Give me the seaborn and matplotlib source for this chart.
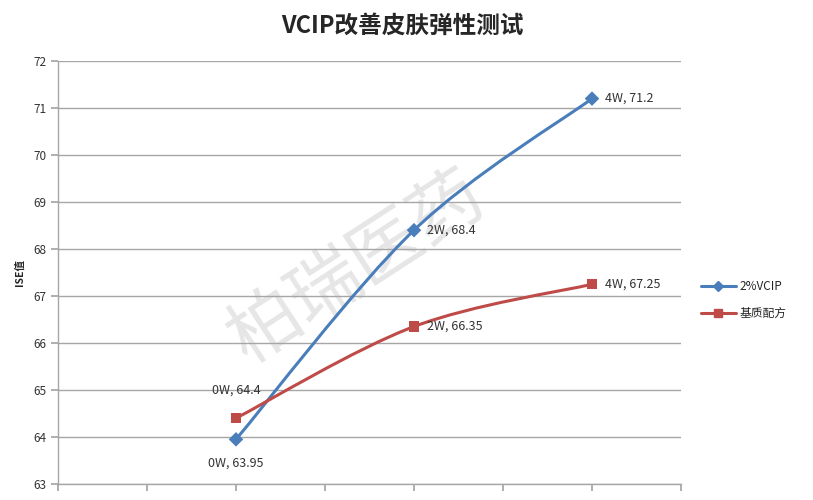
import numpy as np
import pandas as pd
import matplotlib
matplotlib.use('Agg')
import matplotlib.pyplot as plt
import seaborn as sns
from matplotlib.path import Path
from matplotlib.patches import PathPatch
from matplotlib.lines import Line2D

# dados
semanas = ['0W', '2W', '4W']
x_pos = [2, 4, 6]
vcip = [63.95, 68.4, 71.2]
base = [64.4, 66.35, 67.25]
series = ['2%VCIP', '基质配方']
cores = ['#4A7EBB', '#BE4B48']

sns.set_theme(style='white')
plt.rcParams['font.family'] = ['Noto Sans CJK SC', 'DejaVu Sans']

fig = plt.figure(figsize=(8.13, 5.0), dpi=100)
ax = fig.add_axes([58/813, 16/500, (681-58)/813, (484-61)/500])

ax.set_xlim(0, 7)
ax.set_ylim(63, 72)
ax.set_yticks(range(63, 73))
ax.set_xticks(range(0, 8))
ax.set_xticklabels([])
ax.grid(axis='y', color='#a6a6a6', linewidth=1)
for s in ['top', 'right']:
    ax.spines[s].set_visible(False)
for s in ['left', 'bottom']:
    ax.spines[s].set_color('#a6a6a6')
    ax.spines[s].set_linewidth(1)
ax.tick_params(axis='y', length=5, color='#a6a6a6', labelsize=8.5, labelcolor='#333333', direction='out', left=True)
ax.tick_params(axis='x', length=5, color='#a6a6a6', direction='out', bottom=True)
ax.set_ylabel('ISE值', fontsize=7.5, fontweight='bold', labelpad=6)

# marca d'agua
ax.text(0.48, 0.51, '柏瑞医药', transform=ax.transAxes, fontsize=52, rotation=33,
        ha='center', va='center', color='#e6e6e6', zorder=0)


def curva_suave(xs, ys):
    # estilo "smooth line" do Excel (Catmull-Rom em bezier)
    p = np.column_stack([xs, ys]).astype(float)
    p_ext = np.vstack([p[0], p, p[-1]])
    verts = [p[0]]
    codes = [Path.MOVETO]
    for i in range(len(p) - 1):
        a, b, c, d = p_ext[i], p_ext[i+1], p_ext[i+2], p_ext[i+3]
        c1 = b + (c - a) / 6
        c2 = c - (d - b) / 6
        verts += [c1, c2, c]
        codes += [Path.CURVE4] * 3
    return Path(verts, codes)


for ys, cor in zip([vcip, base], cores):
    ax.add_patch(PathPatch(curva_suave(x_pos, ys), facecolor='none', edgecolor=cor, linewidth=2.2, zorder=3))

df = pd.DataFrame({'x': x_pos * 2, 'y': vcip + base,
                   'serie': [series[0]] * 3 + [series[1]] * 3})
sns.scatterplot(data=df, x='x', y='y', hue='serie', style='serie',
                markers={series[0]: 'D', series[1]: 's'},
                palette=dict(zip(series, cores)), s=55, edgecolor='none',
                legend=False, ax=ax, zorder=4)
ax.set_xlabel('')

# rotulos dos pontos
fs = 9
ax.annotate(f'{semanas[0]}, {vcip[0]}', (x_pos[0], vcip[0]), xytext=(0, -17), textcoords='offset points',
            ha='center', va='center', fontsize=fs, color='#333333')
ax.annotate(f'{semanas[0]}, {base[0]}', (x_pos[0], base[0]), xytext=(0, 20), textcoords='offset points',
            ha='center', va='center', fontsize=fs, color='#333333')
for i in [1, 2]:
    ax.annotate(f'{semanas[i]}, {vcip[i]}', (x_pos[i], vcip[i]), xytext=(9, 0), textcoords='offset points',
                ha='left', va='center', fontsize=fs, color='#333333')
    ax.annotate(f'{semanas[i]}, {base[i]}', (x_pos[i], base[i]), xytext=(9, 0), textcoords='offset points',
                ha='left', va='center', fontsize=fs, color='#333333')

# legenda
handles = [Line2D([], [], color=cores[0], marker='D', markersize=5, linewidth=2.2),
           Line2D([], [], color=cores[1], marker='s', markersize=6, linewidth=2.2)]
fig.legend(handles, series, loc='center left', bbox_to_anchor=(690/813, 1 - 300/500),
           frameon=False, fontsize=8.5, handlelength=3, labelspacing=1.2, handletextpad=0.3)

fig.suptitle('VCIP改善皮肤弹性测试', x=402/813, y=0.972, fontsize=17, fontweight='bold')

fig.savefig('out.png', dpi=100)
